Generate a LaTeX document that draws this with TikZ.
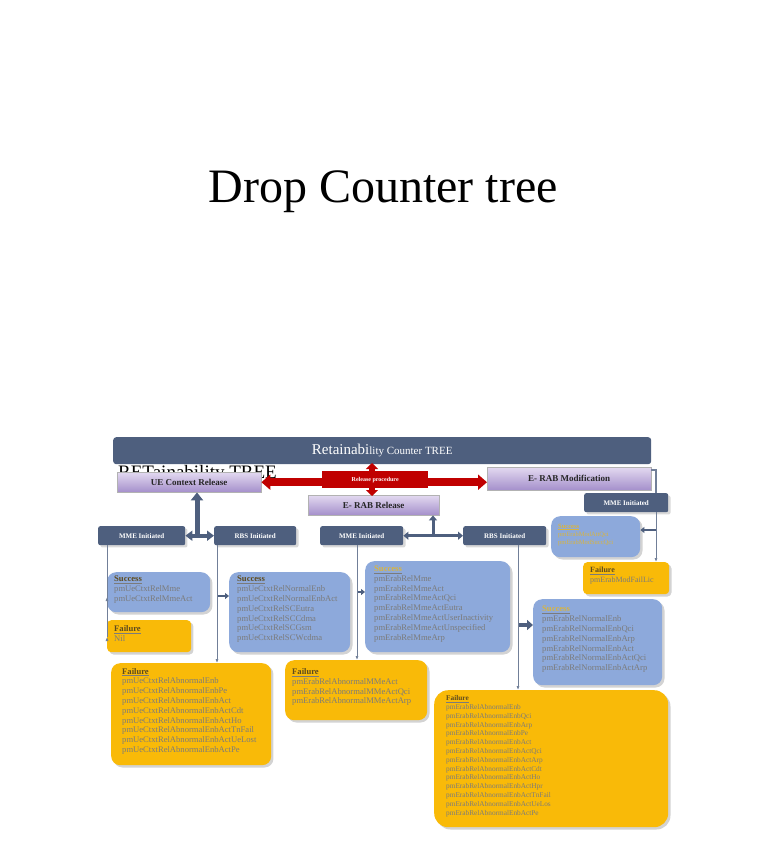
\documentclass[tikz,border=0pt]{standalone}
\usepackage{fontspec}
\setmainfont{Liberation Serif}
\usetikzlibrary{arrows.meta,shadows}
\definecolor{hdr}{HTML}{4E5F7E}
\definecolor{blu}{HTML}{8DA9DB}
\definecolor{org}{HTML}{F9BA08}
\definecolor{lavA}{HTML}{E3D9F0}
\definecolor{lavB}{HTML}{A48FCB}
\definecolor{cnt}{HTML}{7B7B7B}
\definecolor{hd}{HTML}{5E4B1E}
\definecolor{ylw}{HTML}{D8B440}
\definecolor{rd}{HTML}{C00000}
\tikzset{
 dk/.style={fill=hdr,rounded corners=2pt,text=white,font=\bfseries\fontsize{7}{8}\selectfont,anchor=north west,inner sep=0pt,drop shadow={opacity=.3}},
 lav/.style={top color=lavA,bottom color=lavB,draw=white!70!black,text=black!85,font=\bfseries\fontsize{9}{10}\selectfont,anchor=north west,inner sep=0pt},
 bx/.style={rounded corners=9pt,anchor=north west,align=left,inner xsep=7pt,inner ysep=2pt,font=\fontsize{8.6}{9.8}\selectfont,text=cnt,drop shadow={opacity=.35}},
 sb/.style={bx,fill=blu},
 fb/.style={bx,fill=org},
 ln/.style={draw=hdr!80,line width=.7pt,-{Latex[length=4pt,width=3pt]}},
 thk/.style={draw=hdr,line width=4pt,{Triangle[length=7pt,width=10pt]}-{Triangle[length=7pt,width=10pt]}},
}
\newcommand{\hh}[1]{\textbf{\underline{\smash{\color{hd}#1}}}}
\newcommand{\hy}[1]{\textbf{\underline{\smash{\color{ylw}#1}}}}
\begin{document}
\begin{tikzpicture}[x=1pt,y=-1pt]
\useasboundingbox (0,0) rectangle (768,866);
\node (title) at (383,192) {\fontsize{48}{54}\selectfont Drop Counter tree};
\node[fill=hdr,rounded corners=3pt,anchor=north west,minimum width=538,minimum height=27,inner sep=0pt,text=white] (top) at (113,437) {\fontsize{15}{16}\selectfont Retainabi\fontsize{11}{12}\selectfont lity Counter TREE};
\node[anchor=west,font=\fontsize{19}{20}\selectfont,inner sep=0pt] (ghost) at (118,474) {RETainability TREE};
\node[lav,minimum width=144,minimum height=20] (uec) at (117,472) {UE Context Release};
\node[lav,minimum width=164,minimum height=23] (mod) at (487,467) {E- RAB Modification};
\node[lav,minimum width=131,minimum height=20] (rel) at (308,495) {E- RAB Release};
\draw[draw=rd,line width=8pt,{Triangle[length=9pt,width=15pt]}-{Triangle[length=9pt,width=15pt]}] (uec.east) -- (mod.west|-uec.east);
\draw[draw=rd,line width=6pt,{Triangle[length=6pt,width=12pt]}-{Triangle[length=6pt,width=12pt]}] (372,463) -- (372,496);
\node[fill=rd,anchor=north west,minimum width=106,minimum height=17,inner sep=0pt,text=white,font=\bfseries\fontsize{6}{7}\selectfont] (rp) at (322,471) {Release procedure};
% dark boxes
\node[dk,minimum width=87,minimum height=19] (mme1) at (98,526) {MME Initiated};
\node[dk,minimum width=82,minimum height=19] (rbs1) at (214,526) {RBS Initiated};
\node[dk,minimum width=83,minimum height=19] (mme2) at (320,526) {MME Initiated};
\node[dk,minimum width=83,minimum height=19] (rbs2) at (463,526) {RBS Initiated};
\node[dk,minimum width=84,minimum height=19] (mme3) at (584,493) {MME Initiated};
\draw[thk] (mme1.east) -- (rbs1.west);
\draw[draw=hdr,line width=5pt,-{Triangle[length=8pt,width=12pt]}] (197,535) -- (uec.south-|197,0);
\draw[draw=hdr,line width=3pt,{Triangle[length=5pt,width=8pt]}-{Triangle[length=5pt,width=8pt]}] (mme2.east) -- (rbs2.west);
\draw[draw=hdr,line width=3pt,-{Triangle[length=5pt,width=8pt]}] (433,535) -- (rel.south-|433,0);
% content boxes
\node[sb,text width=89pt,minimum height=40] (s1) at (107,572) {\hh{Success}\\pmUeCtxtRelMme\\pmUeCtxtRelMmeAct};
\node[fb,text width=70pt,minimum height=32,rounded corners=4pt] (f1) at (107,620) {\hh{Failure}\\Nil};
\node[sb,text width=105pt,minimum height=80,inner xsep=8pt] (s2) at (229,572) {\hh{Success}\\pmUeCtxtRelNormalEnb\\pmUeCtxtRelNormalEnbAct\\pmUeCtxtRelSCEutra\\pmUeCtxtRelSCCdma\\pmUeCtxtRelSCGsm\\pmUeCtxtRelSCWcdma};
\node[fb,text width=138pt,minimum height=102,inner xsep=11pt] (f2) at (111,663) {\hh{Failure}\\pmUeCtxtRelAbnormalEnb\\pmUeCtxtRelAbnormalEnbPe\\pmUeCtxtRelAbnormalEnbAct\\pmUeCtxtRelAbnormalEnbActCdt\\pmUeCtxtRelAbnormalEnbActHo\\pmUeCtxtRelAbnormalEnbActTnFail\\pmUeCtxtRelAbnormalEnbActUeLost\\pmUeCtxtRelAbnormalEnbActPe};
\node[sb,text width=127pt,minimum height=91,inner xsep=9pt] (s3) at (365,561) {\hy{Success}\\pmErabRelMme\\pmErabRelMmeAct\\pmErabRelMmeActQci\\pmErabRelMmeActEutra\\pmErabRelMmeActUserInactivity\\pmErabRelMmeActUnspecified\\pmErabRelMmeArp};
\node[fb,text width=128pt,minimum height=60] (f3) at (285,660) {\hh{Failure}\\pmErabRelAbnormalMMeAct\\pmErabRelAbnormalMMeActQci\\pmErabRelAbnormalMMeActArp};
\node[sb,text width=75pt,minimum height=41,font=\fontsize{6.5}{8}\selectfont,text=ylw] (s4) at (551,516) {\hy{Success}\\pmErabModAttQci\\pmErabModSuccQci};
\node[fb,text width=72pt,minimum height=32,rounded corners=4pt,font=\fontsize{8}{9.5}\selectfont] (f4) at (583,562) {\hh{Failure}\\pmErabModFailLic};
\node[sb,text width=111pt,minimum height=86,inner xsep=9pt] (s5) at (533,599) {\hy{Success}\\pmErabRelNormalEnb\\pmErabRelNormalEnbQci\\pmErabRelNormalEnbArp\\pmErabRelNormalEnbAct\\pmErabRelNormalEnbActQci\\pmErabRelNormalEnbActArp};
\node[fb,text width=210pt,minimum height=137,rounded corners=14pt,inner xsep=12pt,font=\fontsize{7.3}{8.8}\selectfont] (f5) at (434,690) {\hh{Failure}\\pmErabRelAbnormalEnb\\pmErabRelAbnormalEnbQci\\pmErabRelAbnormalEnbArp\\pmErabRelAbnormalEnbPe\\pmErabRelAbnormalEnbAct\\pmErabRelAbnormalEnbActQci\\pmErabRelAbnormalEnbActArp\\pmErabRelAbnormalEnbActCdt\\pmErabRelAbnormalEnbActHo\\pmErabRelAbnormalEnbActHpr\\pmErabRelAbnormalEnbActTnFail\\pmErabRelAbnormalEnbActUeLos\\pmErabRelAbnormalEnbActPe};
% connectors
\draw[draw=hdr!80,line width=.7pt] (mme1.south-|107,0) -- (107,637);
\draw[ln] (107,597) -- (s1.west|-0,597);
\draw[ln] (107,637) -- (f1.west|-0,637);
\draw[ln] (rbs1.south-|217,0) -- (f2.north-|217,0);
\draw[draw=hdr,line width=2.5pt,-{Triangle[length=4pt,width=6pt]}] (218,596) -- (s2.west|-0,596);
\draw[ln] (mme2.south-|357,0) -- (f3.north-|357,0);
\draw[draw=hdr,line width=2.5pt,-{Triangle[length=4pt,width=6pt]}] (358,592) -- (s3.west|-0,592);
\draw[ln] (rbs2.south-|518,0) -- (f5.north-|518,0);
\draw[draw=hdr,line width=4pt,-{Triangle[length=6pt,width=10pt]}] (519,625) -- (s5.west|-0,625);
\draw[draw=hdr!80,line width=1.2pt] (mod.east|-0,470) -- (656,470) -- (mme3.north-|656,0);
\draw[ln] (mme3.south-|656,0) -- (f4.north-|656,0);
\draw[draw=hdr,line width=2.5pt,-{Triangle[length=4pt,width=6pt]}] (656,530) -- (s4.east|-0,530);
\end{tikzpicture}
\end{document}
